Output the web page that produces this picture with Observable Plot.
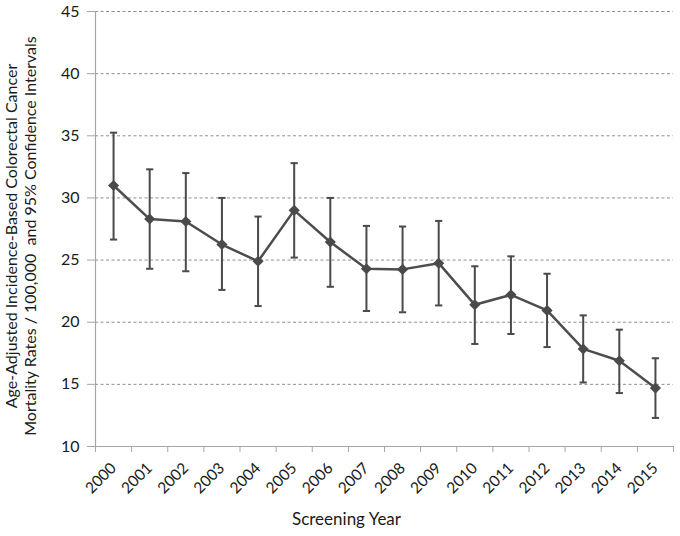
<!DOCTYPE html>
<html>
<head>
<meta charset="utf-8">
<script src="https://cdn.jsdelivr.net/npm/d3@7"></script>
<script src="https://cdn.jsdelivr.net/npm/@observablehq/plot@0.6"></script>
<style>
  html, body { margin: 0; padding: 0; background: #fff; }
  #chart { width: 680px; height: 536px; }
</style>
</head>
<body>
<div id="chart"></div>
<script>
const years = [2000, 2001, 2002, 2003, 2004, 2005, 2006, 2007, 2008, 2009, 2010, 2011, 2012, 2013, 2014, 2015];
const rates = [31.0, 28.3, 28.1, 26.25, 24.9, 29.0, 26.45, 24.3, 24.25, 24.75, 21.4, 22.2, 20.95, 17.85, 16.9, 14.7];
const upper = [35.25, 32.3, 32.0, 30.0, 28.5, 32.8, 30.0, 27.75, 27.7, 28.15, 24.5, 25.3, 23.9, 20.55, 19.4, 17.1];
const lower = [26.65, 24.3, 24.1, 22.6, 21.3, 25.2, 22.85, 20.9, 20.8, 21.35, 18.25, 19.05, 18.0, 15.15, 14.3, 12.3];
const yTicks = [10, 15, 20, 25, 30, 35, 40, 45];
const xLabel = "Screening Year";
const yLabelLines = [
  "Age-Adjusted Incidence-Based Colorectal Cancer",
  "Mortality Rates / 100,000\u00a0 and 95% Confidence Intervals"
];

const data = years.map((year, i) => ({year, rate: rates[i], lower: lower[i], upper: upper[i]}));
const bandEdges = years.map(y => y - 0.5).concat([years[years.length - 1] + 0.5]);

const cap = {
  draw(context, size) {
    const w = Math.sqrt(size / Math.PI);
    context.moveTo(-w, 0);
    context.lineTo(w, 0);
  }
};

const font = "Lato, 'Open Sans', sans-serif";
const axisGray = "#a6a6a6";
const ink = "#4a4a4a";

const chart = Plot.plot({
  width: 680,
  height: 536,
  marginLeft: 95,
  marginRight: 7,
  marginTop: 11,
  marginBottom: 90,
  style: {fontFamily: font, color: "#1a1a1a", background: "#fff"},
  x: {domain: [bandEdges[0], bandEdges[bandEdges.length - 1]], axis: null},
  y: {domain: [10, 45], axis: null},
  marks: [
    Plot.ruleY(yTicks.filter(d => d > 10), {stroke: "#8f8f8f", strokeDasharray: "3,2.5", strokeWidth: 1}),
    Plot.frame({anchor: "left", stroke: axisGray, strokeWidth: 1.2}),
    Plot.frame({anchor: "bottom", stroke: axisGray, strokeWidth: 1.2}),
    Plot.axisY(yTicks, {tickSize: 8, tickPadding: 8, fontSize: 16, stroke: axisGray, label: null, tickFormat: d => String(d)}),
    Plot.axisX(bandEdges, {tickSize: 6, tickFormat: () => "", stroke: axisGray, label: null}),
    Plot.axisX(years, {tickSize: 0, tickPadding: 19, tickRotate: -45, fontSize: 15.5, label: null, tickFormat: d => String(d)}),
    Plot.ruleX(data, {x: "year", y1: "lower", y2: "upper", stroke: ink, strokeWidth: 2}),
    Plot.dot(data, {x: "year", y: "upper", symbol: cap, r: 3.6, stroke: ink, strokeWidth: 2, fill: "none"}),
    Plot.dot(data, {x: "year", y: "lower", symbol: cap, r: 3.6, stroke: ink, strokeWidth: 2, fill: "none"}),
    Plot.line(data, {x: "year", y: "rate", stroke: "#4d4d4d", strokeWidth: 2.5}),
    Plot.dot(data, {x: "year", y: "rate", symbol: "diamond2", r: 5, fill: ink, stroke: "none"}),
    Plot.text([xLabel], {frameAnchor: "bottom", textAnchor: "middle", lineAnchor: "middle", dx: -38, dy: 73, fontSize: 17, fill: "#1a1a1a"}),
    Plot.text([yLabelLines.join("\n")], {frameAnchor: "left", textAnchor: "middle", lineAnchor: "middle", rotate: -90, dx: -75, dy: 7, lineHeight: 1.2, fontSize: 16, fill: "#1a1a1a"})
  ]
});

document.getElementById("chart").appendChild(chart);
</script>
</body>
</html>
